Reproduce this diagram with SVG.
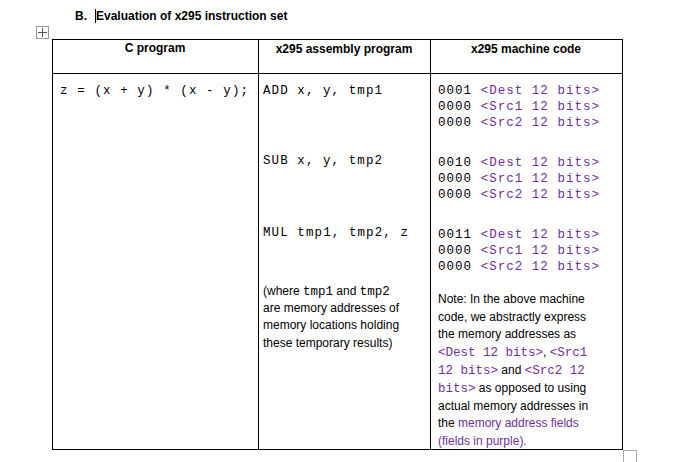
<svg xmlns="http://www.w3.org/2000/svg" width="675" height="462" viewBox="0 0 675 462">
<style>
.s{font-family:"Liberation Sans",Arial,sans-serif;font-size:12px;fill:#000}
.h{font-family:"Liberation Sans",Arial,sans-serif;font-size:12px;font-weight:bold;fill:#000}
.m{font-family:"Liberation Mono","Courier New",monospace;font-size:12.5px;fill:#000}
.p{fill:#7030A0}
.ln{stroke:#000;stroke-width:1;fill:none}
</style>
<rect width="675" height="462" fill="#fff"/>
<text class="h" x="75" y="20">B.</text>
<text class="h" x="96" y="20">Evaluation of x295 instruction set</text>
<line x1="95.5" y1="9" x2="95.5" y2="23" stroke="#000"/>
<g id="moveicon">
<rect x="36.5" y="26.5" width="12" height="12" fill="#fff" stroke="#999"/>
<path d="M42.5 28v9M38 32.5h9" stroke="#555"/>
</g>
<g id="table">
<rect x="52.5" y="39.5" width="570" height="410" class="ln"/>
<line x1="52" y1="73.5" x2="622" y2="73.5" class="ln"/>
<line x1="258.5" y1="39" x2="258.5" y2="449" class="ln"/>
<line x1="430.5" y1="39" x2="430.5" y2="449" class="ln"/>
</g>
<g id="headers">
<text class="h" x="155" y="52" text-anchor="middle">C program</text>
<text class="h" x="344" y="53" text-anchor="middle">x295 assembly program</text>
<text class="h" x="526" y="53" text-anchor="middle">x295 machine code</text>
</g>
<g id="cprog">
<text class="m" x="60" y="94" textLength="188" lengthAdjust="spacing">z = (x + y) * (x - y);</text>
</g>
<g id="asm">
<text class="m" x="263" y="94" textLength="119" lengthAdjust="spacing">ADD x, y, tmp1</text>
<text class="m" x="263" y="164" textLength="119" lengthAdjust="spacing">SUB x, y, tmp2</text>
<text class="m" x="263" y="236" textLength="145" lengthAdjust="spacing">MUL tmp1, tmp2, z</text>
<text class="s" x="263" y="295">(where <tspan class="m">tmp1</tspan> and <tspan class="m">tmp2</tspan></text>
<text class="s" x="263" y="312">are memory addresses of</text>
<text class="s" x="263" y="329">memory locations holding</text>
<text class="s" x="263" y="347">these temporary results)</text>
</g>
<g id="machine">
<text class="m" x="438" y="94" textLength="161" lengthAdjust="spacing">0001 <tspan class="p">&lt;Dest 12 bits&gt;</tspan></text>
<text class="m" x="438" y="110" textLength="161" lengthAdjust="spacing">0000 <tspan class="p">&lt;Src1 12 bits&gt;</tspan></text>
<text class="m" x="438" y="126" textLength="161" lengthAdjust="spacing">0000 <tspan class="p">&lt;Src2 12 bits&gt;</tspan></text>
<text class="m" x="438" y="166" textLength="161" lengthAdjust="spacing">0010 <tspan class="p">&lt;Dest 12 bits&gt;</tspan></text>
<text class="m" x="438" y="182" textLength="161" lengthAdjust="spacing">0000 <tspan class="p">&lt;Src1 12 bits&gt;</tspan></text>
<text class="m" x="438" y="198" textLength="161" lengthAdjust="spacing">0000 <tspan class="p">&lt;Src2 12 bits&gt;</tspan></text>
<text class="m" x="438" y="238" textLength="161" lengthAdjust="spacing">0011 <tspan class="p">&lt;Dest 12 bits&gt;</tspan></text>
<text class="m" x="438" y="254" textLength="161" lengthAdjust="spacing">0000 <tspan class="p">&lt;Src1 12 bits&gt;</tspan></text>
<text class="m" x="438" y="270" textLength="161" lengthAdjust="spacing">0000 <tspan class="p">&lt;Src2 12 bits&gt;</tspan></text>
</g>
<g id="note">
<text class="s" x="438" y="303">Note: In the above machine</text>
<text class="s" x="438" y="321">code, we abstractly express</text>
<text class="s" x="438" y="338">the memory addresses as</text>
<text class="s" x="438" y="356"><tspan class="m p">&lt;Dest 12 bits&gt;</tspan>, <tspan class="m p">&lt;Src1</tspan></text>
<text class="s" x="438" y="374"><tspan class="m p">12 bits&gt;</tspan>  and <tspan class="m p">&lt;Src2 12</tspan></text>
<text class="s" x="438" y="392"><tspan class="m p">bits&gt;</tspan> as opposed to using</text>
<text class="s" x="438" y="410">actual memory addresses in</text>
<text class="s" x="438" y="427">the <tspan class="p">memory address fields</tspan></text>
<text class="s p" x="438" y="445">(fields in purple).</text>
</g>
<rect x="623.5" y="450.5" width="13" height="13" fill="none" stroke="#aaa"/>
</svg>
